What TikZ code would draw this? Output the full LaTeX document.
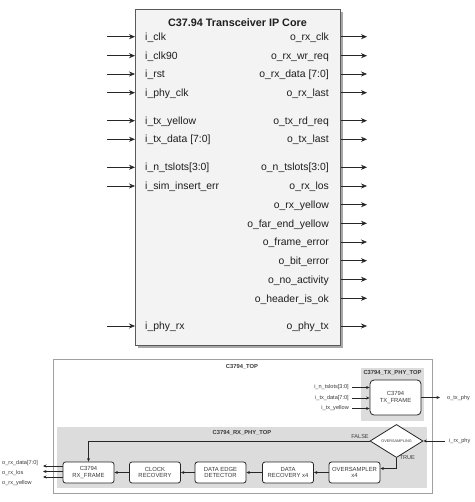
\documentclass[tikz,border=0pt]{standalone}
\usepackage{fontspec}
\setmainfont{Liberation Sans}
\usetikzlibrary{arrows.meta,shapes.geometric}
\definecolor{corefill}{HTML}{F3F3F3}
\definecolor{coreline}{HTML}{5A5A5A}
\definecolor{shadowc}{HTML}{A8A8A8}
\definecolor{txtc}{HTML}{1E1E1E}
\definecolor{smtxt}{HTML}{3A3A3A}
\definecolor{grayreg}{HTML}{DCDCDC}
\definecolor{outerline}{HTML}{A0A0A0}
\begin{document}
\begin{tikzpicture}[x=1pt,y=-1pt,
  lbl/.style={inner sep=0pt, text=txtc, font=\fontsize{10.4}{12}\selectfont},
  arr/.style={-{Stealth[length=6pt,width=5pt]}, line width=0.6pt, draw=black!85},
  sarr/.style={-{Stealth[length=3.5pt,width=3pt]}, line width=0.7pt, draw=black!85},
  slbl/.style={inner sep=0pt, text=smtxt, font=\fontsize{5.6}{6.5}\selectfont},
  stitle/.style={inner sep=0pt, text=smtxt, font=\bfseries\fontsize{5.8}{6.5}\selectfont},
  blk/.style={draw=black!85, fill=white, rounded corners=2.5pt, line width=0.8pt,
    minimum width=51pt, minimum height=21pt, inner sep=0pt, align=center, text=smtxt,
    font=\fontsize{5.9}{6.8}\selectfont}
]
\useasboundingbox (0,0) rectangle (474,502);

% ---------------- Top core block ----------------
\fill[shadowc] (138,12) rectangle (343,348);
\node[draw=coreline, fill=corefill, line width=0.9pt, minimum width=205pt, minimum height=336pt,
  anchor=north west, inner sep=0pt] (core) at (135,9) {};
\node[inner sep=0pt, text=txtc, font=\bfseries\fontsize{10.8}{13}\selectfont] (title) at (237.5,23) {C37.94 Transceiver IP Core};

\foreach \t/\y [count=\i] in {i\_clk/36.7, i\_clk90/55.7, i\_rst/74, i\_phy\_clk/92.7,
  i\_tx\_yellow/120.7, i\_tx\_data [7:0]/139.3, i\_n\_tslots[3:0]/167.3,
  i\_sim\_insert\_err/186, i\_phy\_rx/326}{
  \node[lbl, anchor=base west] (L\i) at (145,\y+3.7) {\t};
  \coordinate (la\i) at (107,\y);
  \draw[arr] (la\i) -- (core.west |- la\i);
}

\foreach \t/\y [count=\i] in {o\_rx\_clk/36.7, o\_rx\_wr\_req/55.7, o\_rx\_data [7:0]/74, o\_rx\_last/92.7,
  o\_tx\_rd\_req/120.7, o\_tx\_last/139.3, o\_n\_tslots[3:0]/167.3, o\_rx\_los/186,
  o\_rx\_yellow/204.7, o\_far\_end\_yellow/223.3, o\_frame\_error/242, o\_bit\_error/260.7,
  o\_no\_activity/279.3, o\_header\_is\_ok/298.3, o\_phy\_tx/326}{
  \node[lbl, anchor=base east] (R\i) at (329,\y+3.7) {\t};
  \coordinate (ra\i) at (367,\y);
  \draw[arr] (core.east |- ra\i) -- (ra\i);
}

% ---------------- Bottom diagram ----------------
\node[draw=outerline, fill=white, line width=0.9pt, minimum width=379pt, minimum height=134pt,
  anchor=north west, inner sep=0pt] (top) at (53,359) {};
\node[stitle] (toptitle) at (242,366.5) {C3794\_TOP};

% TX region
\fill[grayreg] (361,368) rectangle (424,421);
\node[stitle] (txtitle) at (392.5,372.5) {C3794\_TX\_PHY\_TOP};
\node[blk, minimum width=51pt, minimum height=35pt, rounded corners=4pt] (txf) at (395.5,397.5) {C3794\\TX\_FRAME};

\foreach \t/\y [count=\i] in {i\_n\_tslots[3:0]/387.5, i\_tx\_data[7:0]/398, i\_tx\_yellow/408.5}{
  \node[slbl, anchor=east] (ti\i) at (349,\y) {\t};
  \coordinate (tic\i) at (352,\y);
  \draw[sarr] (tic\i) -- (txf.west |- tic\i);
}
\coordinate (txo) at (440,397.5);
\draw[sarr] (txf.east) -- (txo);
\node[slbl, anchor=west] (txol) at (447,398.5) {o\_tx\_phy};

% RX region
\fill[grayreg] (57,427) rectangle (427,488);
\node[stitle] (rxtitle) at (242,433) {C3794\_RX\_PHY\_TOP};

\node[diamond, draw=black!85, fill=white, line width=0.8pt, minimum width=53pt, minimum height=20pt,
  inner sep=0pt, text=smtxt, font=\fontsize{3.8}{4.5}\selectfont] (dia) at (396.5,441) {OVERSAMPLING};

\node[blk] (rxf) at (88.5,472.5) {C3794\\RX\_FRAME};
\node[blk] (clk) at (155,472.5) {CLOCK\\RECOVERY};
\node[blk] (ded) at (220.5,472.5) {DATA EDGE\\DETECTOR};
\node[blk] (drc) at (288,472.5) {DATA\\RECOVERY x4};
\node[blk] (ovs) at (354.5,472.5) {OVERSAMPLER\\x4};

\draw[sarr] (ovs) -- (drc);
\draw[sarr] (drc) -- (ded);
\draw[sarr] (ded) -- (clk);
\draw[sarr] (clk) -- (rxf);

\draw[sarr] (dia.west) -| (rxf.north);
\node[slbl] (false) at (360,437) {FALSE};
\draw[sarr] (dia.south) |- ([yshift=4pt]ovs.east);
\node[slbl, anchor=west] (true) at (399.5,458) {TRUE};

\coordinate (rxin) at (445,441);
\draw[sarr] (rxin) -- (dia.east);
\node[slbl, anchor=west] (rxinl) at (449,441.5) {i\_rx\_phy};

\foreach \t/\ly/\ay [count=\i] in {o\_rx\_data[7:0]/462.7/466, o\_rx\_los/472.7/471.5, o\_rx\_yellow/482.7/477}{
  \node[slbl, anchor=west] (ro\i) at (2,\ly) {\t};
  \coordinate (roc\i) at (43,\ay);
  \draw[sarr] (rxf.west |- roc\i) -- (roc\i);
}
\end{tikzpicture}
\end{document}
